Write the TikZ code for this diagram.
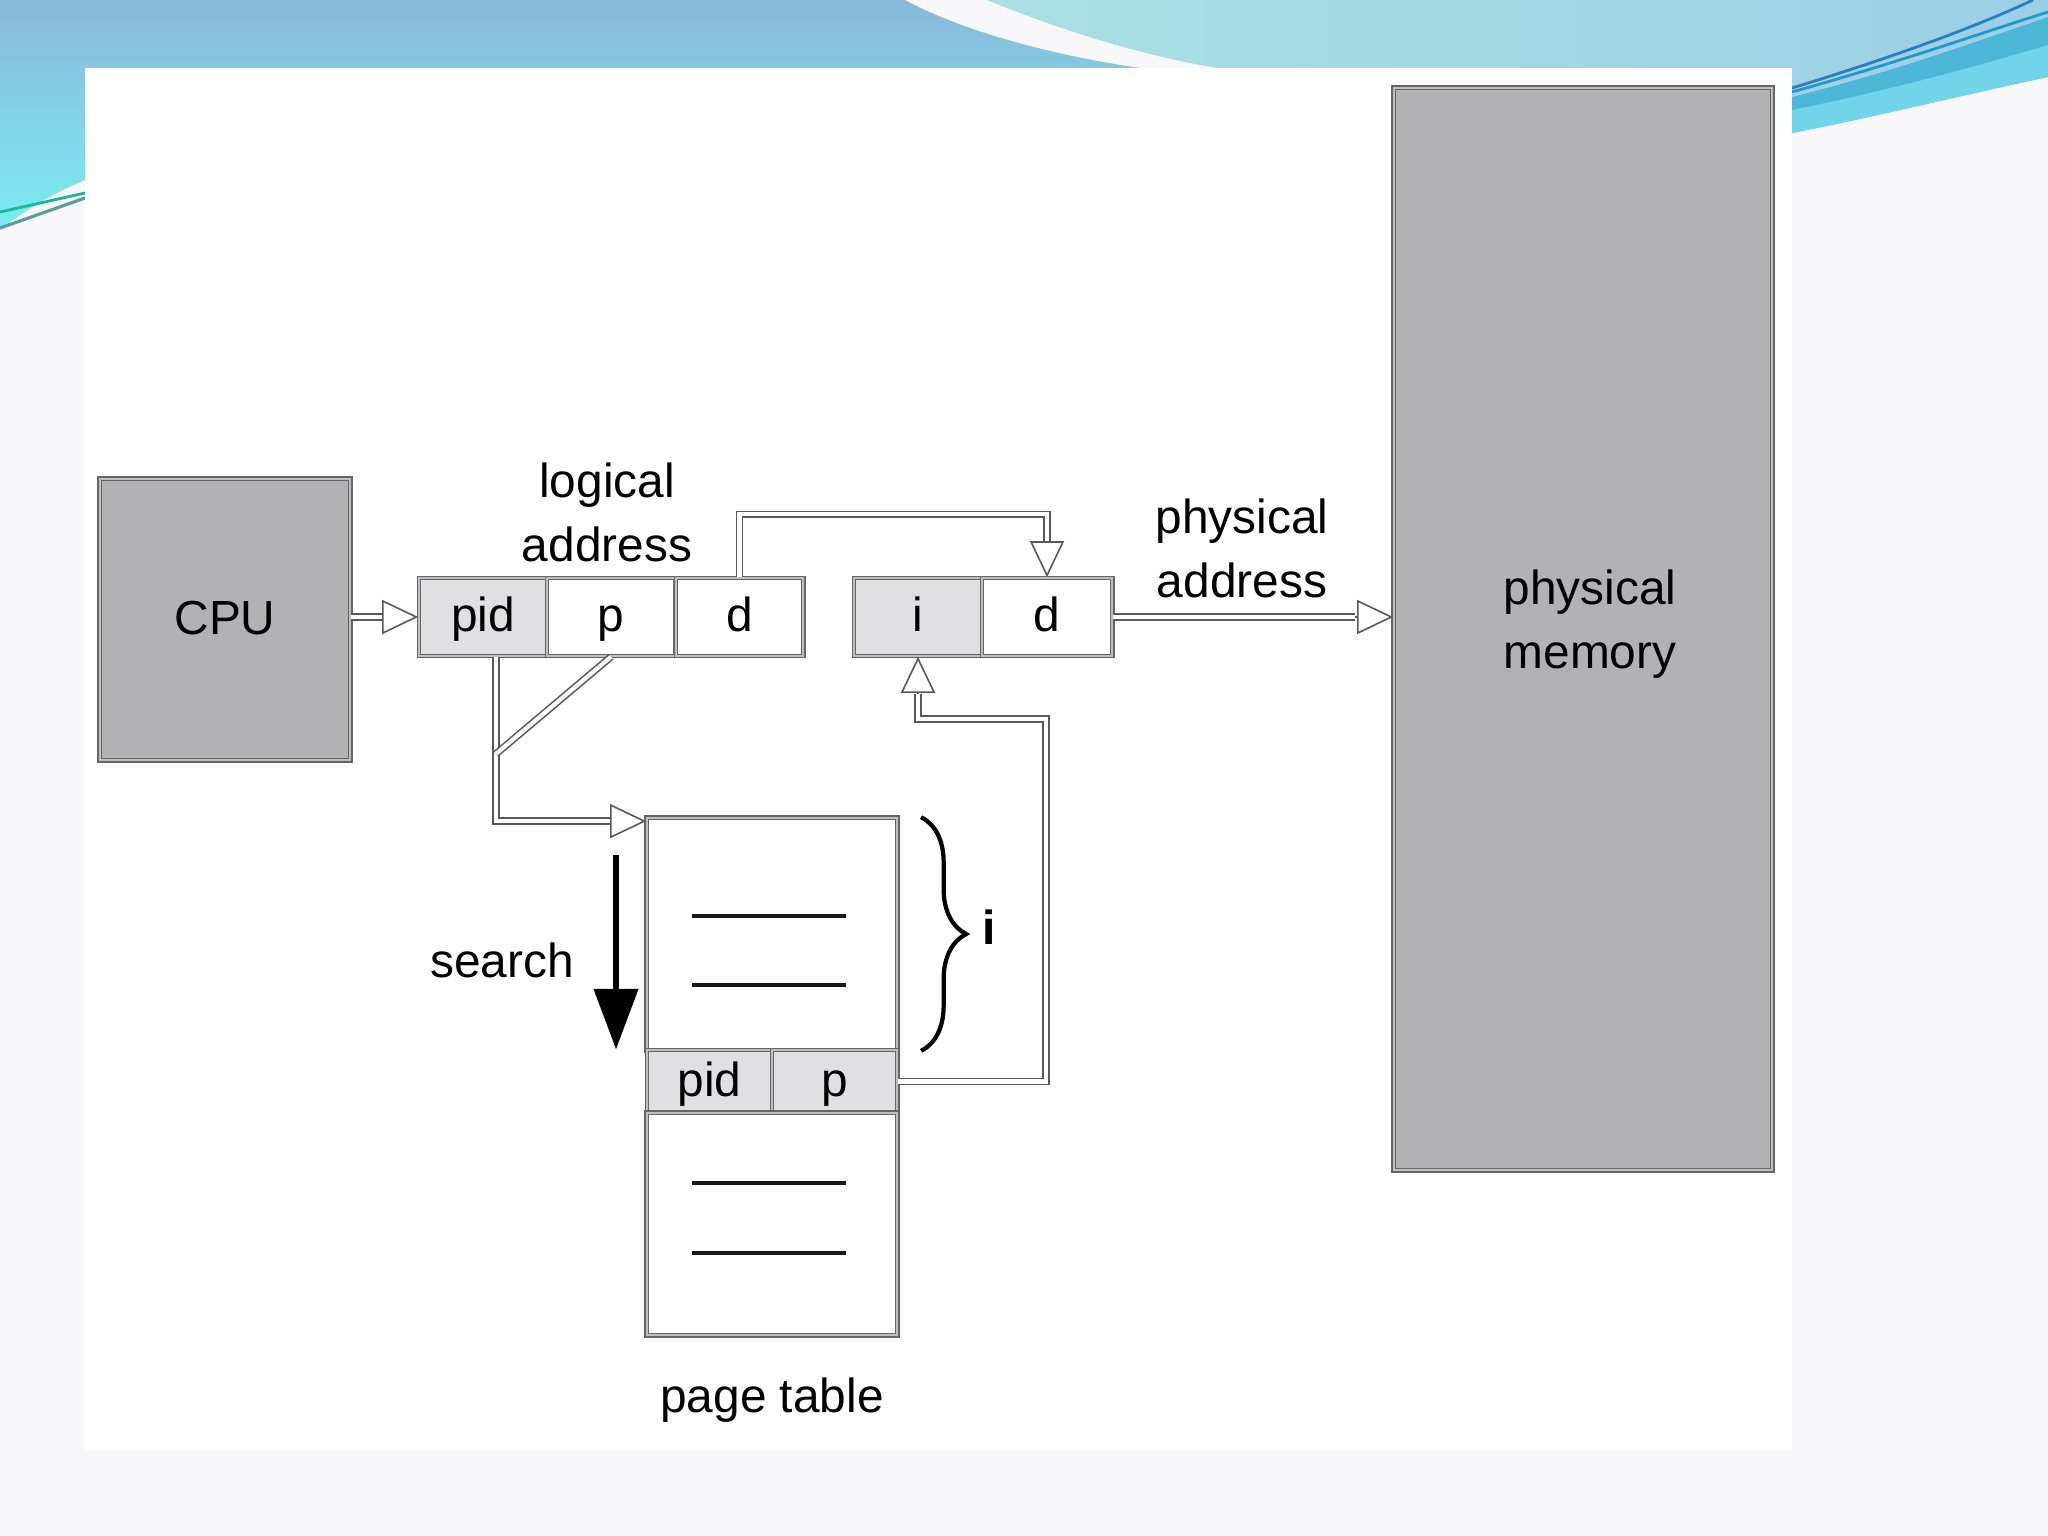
\documentclass[tikz,border=0pt]{standalone}
\usepackage{fontspec}
\setmainfont{Liberation Sans}
\usetikzlibrary{arrows.meta,calc,decorations.pathreplacing}
\definecolor{bgc}{HTML}{F8F8FB}
\definecolor{topA}{HTML}{88B9D8}
\definecolor{topB}{HTML}{7BECF4}
\definecolor{rightA}{HTML}{AAE0E3}
\definecolor{rightB}{HTML}{9BCFE6}
\definecolor{bandlight}{HTML}{72D4E8}
\definecolor{bandblue}{HTML}{4CB7D6}
\definecolor{lineblue}{HTML}{2A7FC0}
\definecolor{linegreen}{HTML}{22B496}
\definecolor{linegray}{HTML}{5E9AA6}
\definecolor{boxgray}{HTML}{B2B1B4}
\definecolor{cellgray}{HTML}{E0E0E2}
\begin{document}
\begin{tikzpicture}[x=0.01cm,y=-0.01cm,
  lbl/.style={font=\fontsize{13.6pt}{18.2pt}\selectfont, inner sep=0pt, align=center},
  boxline/.style={draw=black!60, line width=0.45pt, double=white!75!black, double distance=0.5pt, inner sep=0pt},
  cell/.style={boxline, font=\fontsize{13.6pt}{18.2pt}\selectfont, text height=10.5pt, text depth=2pt},
  conn/.style={draw=black!65, line width=0.45pt, double=white, double distance=1.2pt},
  headst/.style={draw=black!65, line width=0.45pt, -{Triangle[length=0.36cm, width=0.34cm, fill=white]}},
  searcharr/.style={draw=black, line width=1.8pt, -{Triangle[length=0.6cm, width=0.45cm, line width=0pt]}},
  bracest/.style={decorate, decoration={brace, amplitude=0.45cm}, draw=black, line width=1.2pt},
  tline/.style={draw=black!90, line width=1.1pt}]
\useasboundingbox (0,0) rectangle (2048,1536);
% slide background
\fill[bgc] (0,0) rectangle (2048,1536);
\shade[top color=topA, bottom color=topB] (0,0) -- (905,0) .. controls (960,30) and (1050,55) .. (1140,68) -- (85,68) -- (85,180) .. controls (50,195) and (25,210) .. (0,230) -- cycle;
\shade[left color=rightA, right color=rightB] (987,0) -- (2048,0) -- (2048,77) .. controls (1950,98) and (1870,118) .. (1792,133) -- (1792,68) -- (1217,68) .. controls (1140,55) and (1060,30) .. (987,0) -- cycle;
\fill[bandlight] (1792,110) .. controls (1900,88) and (1980,65) .. (2048,45) -- (2048,77) .. controls (1950,98) and (1870,118) .. (1792,133) -- cycle;
\fill[bandblue] (1792,97) .. controls (1900,70) and (1980,40) .. (2048,17) -- (2048,45) .. controls (1980,65) and (1900,88) .. (1792,110) -- cycle;
\draw[lineblue, line width=0.8pt] (1792,88) .. controls (1900,55) and (1980,25) .. (2033,0);
\draw[lineblue!80!cyan, line width=0.8pt] (1792,92) .. controls (1900,62) and (1990,30) .. (2048,12);
\draw[linegreen, line width=0.8pt] (0,212) -- (85,193);
\draw[linegray, line width=0.9pt] (0,228) -- (85,198);
\fill[white] (85,68) rectangle (1792,1450);
% boxes
\node[cell, fill=boxgray, minimum width=2.5cm, minimum height=2.81cm] (cpu) at (225,619.5) {CPU};
\node[cell, fill=cellgray, minimum width=1.28cm, minimum height=0.78cm] (lpid) at (483,617) {pid};
\node[cell, fill=white, minimum width=1.28cm, minimum height=0.78cm] (lp) at (611,617) {p};
\node[cell, fill=white, minimum width=1.27cm, minimum height=0.78cm] (ld) at (739.5,617) {d};
\node[cell, fill=cellgray, minimum width=1.28cm, minimum height=0.78cm] (pi) at (918,617) {i};
\node[cell, fill=white, minimum width=1.30cm, minimum height=0.78cm] (pd) at (1047,617) {d};
\node[boxline, fill=boxgray, minimum width=3.78cm, minimum height=10.82cm] (mem) at (1583,629) {};
\node[lbl] (memtxt) at (1590,624) {physical\\memory};
\node[boxline, fill=white, minimum width=2.5cm, minimum height=2.32cm] (pttop) at (772,934) {};
\node[cell, fill=cellgray, minimum width=1.25cm, minimum height=0.63cm] (ptpid) at (709.5,1081.5) {pid};
\node[cell, fill=cellgray, minimum width=1.25cm, minimum height=0.63cm] (ptp) at (834.5,1081.5) {p};
\node[boxline, fill=white, minimum width=2.5cm, minimum height=2.22cm] (ptbot) at (772,1224) {};
% table entries
\draw[tline] (692,916) -- (846,916);
\draw[tline] (692,985) -- (846,985);
\draw[tline] (692,1183) -- (846,1183);
\draw[tline] (692,1253) -- (846,1253);
% labels
\node[lbl] (logl) at (607,512) {logical\\address};
\node[lbl] (physl) at (1242,548) {physical\\address};
\node[lbl] (srch) at (502,960) {search};
\node[lbl, font=\fontsize{13.6pt}{18.2pt}\selectfont\bfseries] (ilab) at (989,927) {i};
\node[lbl] (ptl) at (772,1400) {page table};
% connectors
\coordinate (cpuout) at (cpu.east |- lpid.west);
\draw[conn] (cpuout) -- ($(lpid.west)+(-36,0)$);
\draw[headst] ($(lpid.west)+(-36,0)$) -- (lpid.west);
\draw[conn] (ld.north) |- ($(pd.north)+(0,-63)$) -- ($(pd.north)+(0,-36)$);
\draw[headst] ($(pd.north)+(0,-36)$) -- (pd.north);
\coordinate (memin) at (mem.west |- pd.east);
\draw[conn] (pd.east) -- ($(memin)+(-38,0)$);
\draw[headst] ($(memin)+(-38,0)$) -- (memin);
\coordinate (ptin) at ($(pttop.north west)+(0,4)$);
\coordinate (pidout) at ($(lpid.south)+(13,0)$);
\draw[conn] (pidout) |- ($(ptin)+(-36,0)$);
\draw[headst] ($(ptin)+(-36,0)$) -- (ptin);
\draw[conn] (lp.south) -- ($(pidout)+(0,97)$);
\draw[conn] (ptp.east) -- ++(148,0) |- ($(pi.south)+(0,62)$) -- ($(pi.south)+(0,37)$);
\draw[headst] ($(pi.south)+(0,37)$) -- (pi.south);
\coordinate (sA) at (616,855);
\coordinate (sB) at (616,1049);
\draw[searcharr] (sA) -- (sB);
\coordinate (brA) at ($(pttop.north west)+(275,0)$);
\coordinate (brB) at ($(pttop.south west)+(275,0)$);
\draw[bracest] (brA) -- (brB);
\end{tikzpicture}
\end{document}
